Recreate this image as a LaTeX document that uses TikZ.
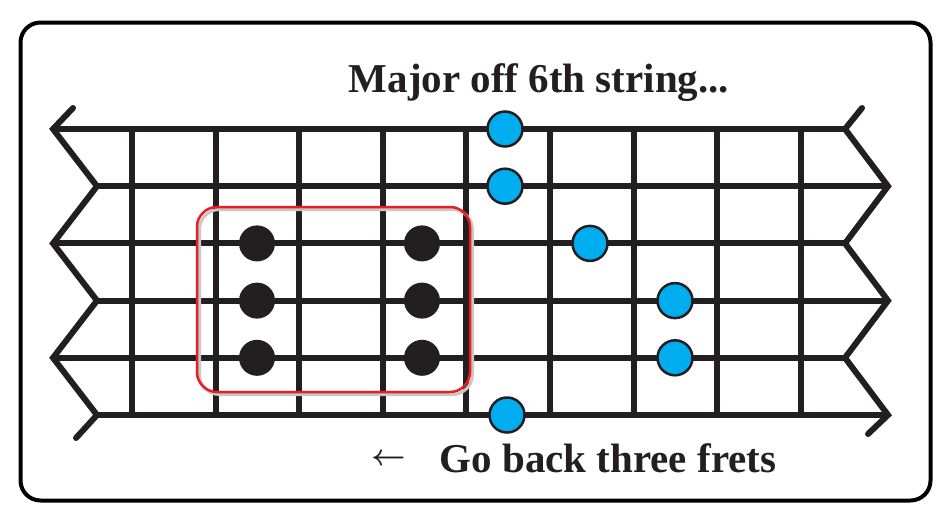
\documentclass[tikz,border=0pt]{standalone}
\usepackage{fontspec}
\setmainfont{Liberation Serif}
\usetikzlibrary{positioning}
\definecolor{fretline}{RGB}{35,31,32}
\definecolor{noteblue}{RGB}{0,174,239}
\definecolor{boxred}{RGB}{237,28,36}
\tikzstyle{frame} = [line width=4pt, rounded corners=20pt, draw=black]
\tikzstyle{gtrstring} = [line width=6pt, draw=fretline]
\tikzstyle{fret} = [line width=6pt, draw=fretline]
\tikzstyle{zigzag} = [line width=6pt, draw=fretline, line cap=round, line join=miter]
\tikzstyle{rootdot} = [circle, minimum size=36pt, inner sep=0pt, fill=fretline]
\tikzstyle{scaledot} = [circle, minimum size=35pt, inner sep=0pt, fill=noteblue, draw=fretline, line width=2.5pt]
\tikzstyle{hilite} = [draw=boxred, line width=2.5pt, rounded corners=20pt]
\tikzstyle{caption} = [font=\fontsize{41}{48}\selectfont\bfseries, text=fretline, inner sep=0pt]

\begin{document}
\begin{tikzpicture}[x=1pt, y=-1pt]
\useasboundingbox (0,0) rectangle (950,512);

% Frame
\draw [frame] (20.5,22.5) rectangle (930.5,500.5);

% Strings
\draw [gtrstring] (53,129) -- (845,129);
\draw [gtrstring] (97,186.2) -- (888,186.2);
\draw [gtrstring] (53,243.4) -- (845,243.4);
\draw [gtrstring] (97,300.6) -- (888,300.6);
\draw [gtrstring] (53,357.8) -- (845,357.8);
\draw [gtrstring] (97,415) -- (888,415);

% Frets
\draw [fret] (132,129) -- (132,415);
\draw [fret] (215.6,129) -- (215.6,415);
\draw [fret] (299.2,129) -- (299.2,415);
\draw [fret] (382.8,129) -- (382.8,415);
\draw [fret] (466.4,129) -- (466.4,415);
\draw [fret] (550,129) -- (550,415);
\draw [fret] (633.6,129) -- (633.6,415);
\draw [fret] (717.2,129) -- (717.2,415);
\draw [fret] (800.8,129) -- (800.8,415);

% Broken ends of the neck
\draw [zigzag] (73,108) -- (53,129) -- (97,186.2) -- (53,243.4) -- (97,300.6) -- (53,357.8) -- (97,415) -- (76,438);
\draw [zigzag] (862,108) -- (845,129) -- (888,186.2) -- (845,243.4) -- (888,300.6) -- (845,357.8) -- (888,415) -- (868,434);

% Highlight box
\draw [hilite, draw=black!22, line width=3pt] (199.5,209.5) rectangle (472.5,394.5);
\draw [hilite] (197,207) rectangle (470,392);

% Shape inside the box
\node (root1) [rootdot] at (257,243.4) {};
\node (root2) [rootdot] at (257,300.6) {};
\node (root3) [rootdot] at (257,357.8) {};
\node (root4) [rootdot] at (422,243.4) {};
\node (root5) [rootdot] at (422,300.6) {};
\node (root6) [rootdot] at (422,357.8) {};

% Major shape off 6th string
\node (note1) [scaledot] at (505,129) {};
\node (note2) [scaledot] at (505,186.2) {};
\node (note3) [scaledot] at (590,243.4) {};
\node (note4) [scaledot] at (675,300.6) {};
\node (note5) [scaledot] at (675,357.8) {};
\node (note6) [scaledot] at (507,415) {};

% Captions
\node (title) [caption, anchor=base] at (539,92) {Major off 6th string...};
\node (goback) [caption, anchor=base] at (608,472) {Go back three frets};
\node (backarrow) [base left=33pt of goback, inner sep=0pt, text=fretline, yshift=7pt] {\scalebox{3}{\boldmath$\leftarrow$}};

\end{tikzpicture}
\end{document}
